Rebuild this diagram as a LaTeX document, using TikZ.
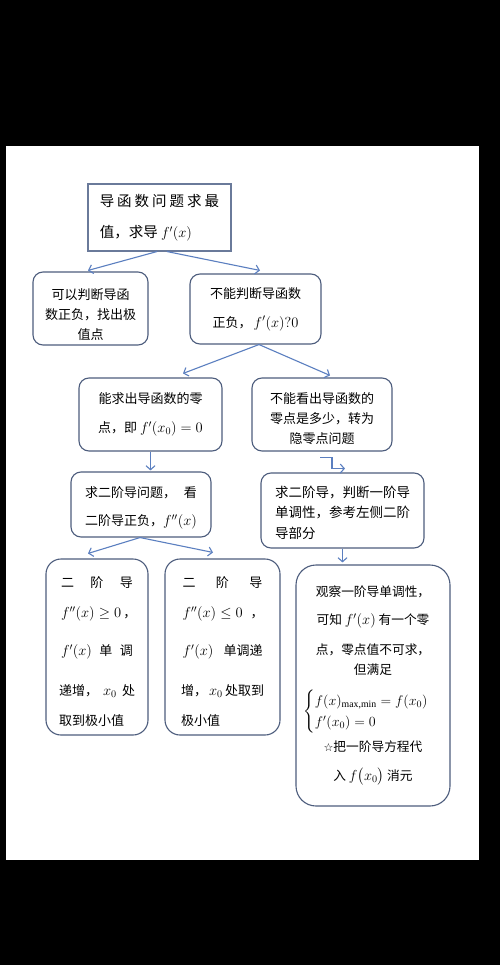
\RequirePackage{fix-cm}
\documentclass[tikz,border=0pt]{standalone}
\usepackage{amsmath}
\usepackage{fontspec}
\setmainfont{Noto Sans CJK SC}
\newfontfamily\starfont{DejaVu Sans}
\newfontfamily\lser{Liberation Serif}
\usetikzlibrary{arrows.meta}
\definecolor{boxline}{HTML}{4D5D7D}
\definecolor{arrline}{HTML}{5B7FC0}
\definecolor{topline}{HTML}{6A7A9A}
\newcommand\kgap{\hspace{3pt}}
\newcommand\tpad[1]{\rule{0pt}{#1}}
\newcommand\mm[1]{{\fontsize{14.5}{16}\selectfont$#1$}}
\begin{document}
\begin{tikzpicture}[x=1pt,y=-1pt,
  box/.style={draw=boxline, line width=1.1pt, rounded corners=10pt, inner sep=0pt,
    font=\fontsize{13}{20}\selectfont, align=center},
  arr/.style={draw=arrline, line width=1.1pt, -{Straight Barb[length=4pt,width=9pt]}},
]
\useasboundingbox (0,0) rectangle (500,965);
\fill[black] (0,0) rectangle (500,965);
\fill[white] (6,146) rectangle (479,860);

\node[box, rounded corners=0pt, draw=topline, minimum width=143, minimum height=67,
  align=left, font=\fontsize{14.5}{31}\selectfont] (top) at (159.5,217.5)
  {导\kgap 函\kgap 数\kgap 问\kgap 题\kgap 求\kgap 最\\值，求导 \mm{f'(x)}};

\node[box, minimum width=115, minimum height=73] (l1) at (90.5,308.5)
  {\tpad{23pt}可以判断导函\\数正负，找出极\\值点};

\node[box, minimum width=131, minimum height=70, font=\fontsize{13}{29}\selectfont] (r1) at (255.5,309)
  {不能判断导函数\\正负，\,\mm{f'(x)?0}};

\node[box, minimum width=143, minimum height=73, font=\fontsize{13}{29}\selectfont] (l2) at (150.5,414.5)
  {能求出导函数的零\\点，即 \mm{f'(x_0)=0}};

\node[box, minimum width=140, minimum height=73] (r2) at (322,414.5)
  {\tpad{19.5pt}不能看出导函数的\\零点是多少，转为\\隐零点问题};

\node[box, minimum width=140, minimum height=65, font=\fontsize{13}{28}\selectfont] (l3) at (141,504.5)
  {\tpad{17.5pt}\makebox[112pt]{求二阶导问题，\hfill 看}\\二阶导正负，\mm{f''(x)}};

\node[box, minimum width=163, minimum height=75, align=left, font=\fontsize{13.5}{20.5}\selectfont] (r3) at (342.5,510.5)
  {\tpad{16pt}求二阶导，判断一阶导\\单调性，参考左侧二阶\\导部分};

\node[box, rounded corners=15pt, minimum width=102, minimum height=176, font=\fontsize{13}{16}\selectfont] (l4) at (97,647)
  {\tpad{20.5pt}\makebox[72pt]{二\hfill 阶\hfill 导}\\[14pt]\makebox[72pt][l]{\mm{f''(x)\geq 0}\,，}\\[22pt]\makebox[72pt]{\mm{f'(x)}\hfill 单\hfill 调}\\[24pt]\makebox[76pt]{递增，\hfill\mm{x_0}\hfill 处}\\[14pt]\makebox[76pt][l]{取到极小值}};

\node[box, rounded corners=15pt, minimum width=115, minimum height=176, font=\fontsize{13}{16}\selectfont] (m4) at (222.5,647)
  {\tpad{20.5pt}\makebox[80pt]{二\hfill 阶\hfill 导}\\[14pt]\makebox[80pt][l]{\mm{f''(x)\leq 0}\hspace{8pt}，}\\[22pt]\makebox[80pt]{\mm{f'(x)}\hfill 单调递}\\[24pt]\makebox[83pt]{增，\hfill\mm{x_0}\hfill 处取到}\\[14pt]\makebox[83pt][l]{极小值}};

\node[box, rounded corners=20pt, minimum width=154, minimum height=241, font=\fontsize{12.7}{16}\selectfont] (r4) at (373,685.5)
  {观察一阶导单调性，\\[12pt]可知 \mm{f'(x)} 有一个零\\[14pt]点，零点值不可求，\\[4pt]但满足\\[14pt]{\fontsize{14}{16}\selectfont$\begin{cases} f(x)_{\text{\lser max,min}}=f(x_0)\\[2pt] f'(x_0)=0\end{cases}$}\\[6pt]{\starfont\fontsize{11}{16}\selectfont ☆}把一阶导方程代\\[13pt]入 \mm{f\bigl(x_0\bigr)} 消元};

\draw[arr] ([xshift=-2.5pt]top.south) -- ([xshift=-2.5pt,yshift=1pt]l1.north);
\draw[arr] ([xshift=7.5pt]top.south) -- ([xshift=4.5pt,yshift=3pt]r1.north);
\draw[arr] ([xshift=3.5pt]r1.south) -- ([xshift=32.5pt,yshift=4pt]l2.north);
\draw[arr] ([xshift=3.5pt]r1.south) -- ([xshift=8pt,yshift=2pt]r2.north);
\draw[arr] (l2.south) -- ([yshift=1pt]l2.south |- l3.north);
\draw[arr] ([xshift=-2pt,yshift=-6pt]r2.south) -- ++(12,0) -- ++(0,11) -- ++(13,0);
\draw[arr] ([xshift=-1pt]l3.south) -- ([xshift=-9pt,yshift=5pt]l4.north);
\draw[arr] ([xshift=-1pt]l3.south) -- ([xshift=-9.5pt,yshift=6pt]m4.north);
\draw[arr] (r3.south) -- ([yshift=2pt]r3.south |- r4.north);
\end{tikzpicture}
\end{document}
